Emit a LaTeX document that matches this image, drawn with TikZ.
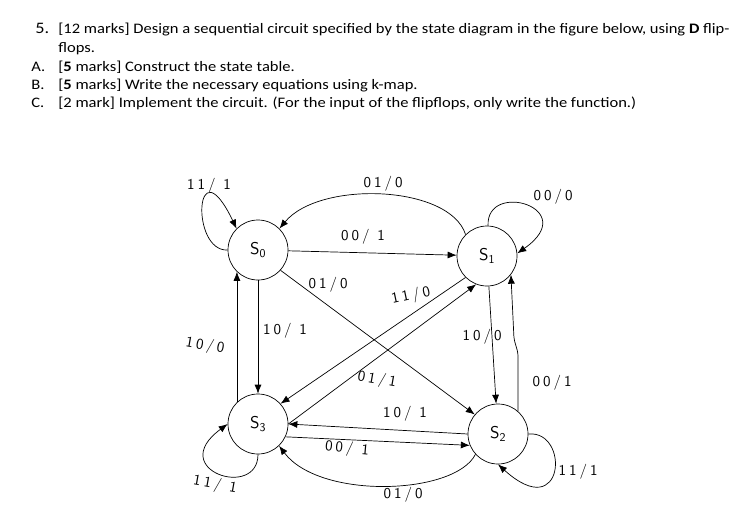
\documentclass[tikz,border=0pt]{standalone}
\usepackage{fontspec}
\setmainfont{Carlito}[FakeStretch=1.14]
\newfontfamily\hand[LetterSpace=20]{lmsans10-regular.otf}
\usetikzlibrary{arrows.meta}

\tikzset{
  state/.style={circle, draw, minimum size=60pt, inner sep=0pt, font=\hand\fontsize{17}{17}\selectfont},
  lbl/.style={font=\hand\fontsize{15}{15}\selectfont, inner sep=1pt},
  txt/.style={anchor=base west, inner sep=0pt, font=\fontsize{14.5}{16}\selectfont}
}

\begin{document}
\begin{tikzpicture}[x=1pt, y=-1pt, line width=0.7pt, >={Latex[length=9pt, width=7pt]}]
    \useasboundingbox (0,0) rectangle (747,528);
    % question text
    \node[txt, font=\fontsize{16}{16}\selectfont] (n5) at (35,33) {5.};
    \node[txt] (t5) at (58,33) {[12 marks] Design a sequential circuit specified by the state diagram in the figure below, using \textbf{D} flip-};
    \node[txt] (t5b) at (58,52) {flops.};
    \node[txt] (nA) at (31,71) {A.};
    \node[txt] (tA) at (58,71) {[\textbf{5} marks] Construct the state table.};
    \node[txt] (nB) at (31,89) {B.};
    \node[txt] (tB) at (58,89) {[\textbf{5} marks] Write the necessary equations using k-map.};
    \node[txt] (nC) at (31,107) {C.};
    \node[txt] (tC) at (58,107) {[2 mark] Implement the circuit. (For the input of the flipflops, only write the function.)};

    % states
    \node[state] (S0) at (258,250) {S\textsubscript{0}};
    \node[state] (S1) at (487,256) {S\textsubscript{1}};
    \node[state] (S2) at (498,434) {S\textsubscript{2}};
    \node[state] (S3) at (258,424) {S\textsubscript{3}};

    % transitions
    \draw[->] (S0.180) .. controls (190,252) and (195,142) .. (S0.135);
    \draw[->] (S1.135) .. controls (450,185) and (320,180) .. (S0.45);
    \draw[->] (S0) -- (S1);
    \draw[->] (S0.-42) -- (S2.140);
    \draw[->] (S1.225) -- (S3.42);
    \draw[->] (S3.0) -- (S1.249);
    \draw[->] (S3.134) -- (S0.226);
    \draw[->] (S0) -- (S3);
    \draw[->] (S1) -- (S2);
    \draw[->, rounded corners=3pt] (S2.49) -- (518,353) -- (514,339) -- (S1.-38);
    \draw[->] (S1.88) .. controls (486,180) and (582,208) .. (S1.5);
    \draw[->] (S2.0) .. controls (570,430) and (565,525) .. (S2.270);
    \draw[->] (S2.180) -- (S3.0);
    \draw[->] (S3.-25) -- (S2.202);
    \draw[->] (S2.222) .. controls (455,495) and (320,500) .. (S3.-46);
    \draw[->] (S3.270) .. controls (258,500) and (165,470) .. (S3.180);

    % labels
    \node[lbl] (l00) at (209,186) {11/ 1};
    \node[lbl] (l10a) at (383,184) {01/0};
    \node[lbl] (l01) at (363,237) {00/ 1};
    \node[lbl] (l02) at (328,285) {01/0};
    \node[lbl, rotate=12] (l13) at (411,296) {11/0};
    \node[lbl, rotate=-10] (l31) at (377,380) {01/1};
    \node[lbl, rotate=-10] (l30) at (205,346) {10/0};
    \node[lbl] (l03) at (285,331) {10/ 1};
    \node[lbl] (l12) at (482,337) {10/0};
    \node[lbl] (l21) at (552,383) {00/1};
    \node[lbl] (l11) at (553,197) {00/0};
    \node[lbl] (l22) at (578,472) {11/1};
    \node[lbl] (l23) at (405,414) {10/ 1};
    \node[lbl, rotate=-5] (l32) at (347,449) {00/ 1};
    \node[lbl] (l23b) at (403,495) {01/0};
    \node[lbl, rotate=-10] (l33) at (215,485) {11/ 1};
\end{tikzpicture}
\end{document}
